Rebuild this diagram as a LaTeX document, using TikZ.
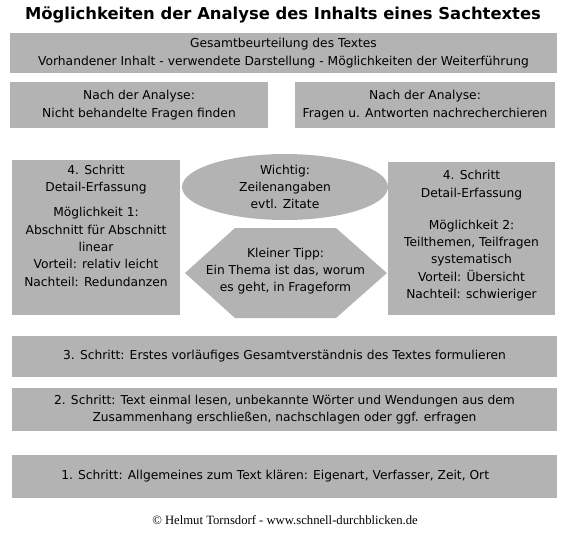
\documentclass[tikz,border=0pt]{standalone}
\usepackage{fontspec}
\setmainfont{DejaVu Sans}
\newfontfamily\footfont{Liberation Serif}
\usetikzlibrary{shapes.geometric,backgrounds}
\definecolor{boxgray}{HTML}{B3B3B3}
\tikzstyle{panel} = [rectangle, fill = boxgray, inner sep = 0pt, align = center, font = \fontsize{9.2}{13}\selectfont]
\tikzstyle{bubble} = [panel, ellipse]
\tikzstyle{tip} = [panel, fill = none]
\begin{document}
\begin{tikzpicture}[x = 0.75pt, y = -0.75pt]
        \useasboundingbox (0,0) rectangle (570,536);
        \node (title) at (283,15) [font = \fontsize{12.3}{15}\selectfont\bfseries] {Möglichkeiten der Analyse des Inhalts eines Sachtextes};
        \node (gesamt) at (283.5,53) [panel, minimum width = 410.25pt, minimum height = 30pt] {Gesamtbeurteilung des Textes\\Vorhandener Inhalt - verwendete Darstellung - Möglichkeiten der Weiterführung};
        \node (nach-l) at (139,105) [panel, minimum width = 193.5pt, minimum height = 34.5pt] {Nach der Analyse:\\Nicht behandelte Fragen finden};
        \node (nach-r) at (425,105) [panel, minimum width = 195pt, minimum height = 34.5pt] {Nach der Analyse:\\Fragen u. Antworten nachrecherchieren};
        \node (detail-l) at (96,237.5) [panel, minimum width = 126pt, minimum height = 116.25pt] {4. Schritt\\Detail-Erfassung\\[6pt]Möglichkeit 1:\\Abschnitt für Abschnitt\\linear\\Vorteil: relativ leicht\\Nachteil: Redundanzen\\[5pt]\mbox{}};
        \node (detail-r) at (471.5,238.5) [panel, minimum width = 125.25pt, minimum height = 114.75pt] {4. Schritt\\Detail-Erfassung\\[11pt]Möglichkeit 2:\\Teilthemen, Teilfragen\\systematisch\\Vorteil: Übersicht\\Nachteil: schwieriger\\[-7pt]\mbox{}};
        \node (wichtig) at (285,187) [bubble, minimum width = 154.5pt, minimum height = 49.5pt] {Wichtig:\\Zeilenangaben\\evtl. Zitate};
        \node (tipp) at (285.5,271) [tip] {Kleiner Tipp:\\Ein Thema ist das, worum\\es geht, in Frageform};
        \begin{scope}[on background layer]
        \fill [boxgray] ([xshift = -75.4pt, yshift = -1.5pt]tipp.center) -- ([xshift = -37.9pt, yshift = 32.25pt]tipp.center) -- ([xshift = 37.9pt, yshift = 32.25pt]tipp.center) -- ([xshift = 76pt, yshift = -1.5pt]tipp.center) -- ([xshift = 37.9pt, yshift = -35.25pt]tipp.center) -- ([xshift = -37.9pt, yshift = -35.25pt]tipp.center) -- cycle;
        \end{scope}
        \node (schritt3) at (284.5,356.5) [panel, minimum width = 408.75pt, minimum height = 30.75pt] {3. Schritt: Erstes vorläufiges Gesamtverständnis des Textes formulieren};
        \node (schritt2) at (284.5,409.5) [panel, minimum width = 408.75pt, minimum height = 32.25pt] {2. Schritt: Text einmal lesen, unbekannte Wörter und Wendungen aus dem\\Zusammenhang erschließen, nachschlagen oder ggf. erfragen};
        \node (schritt1) at (284.5,476.5) [panel, minimum width = 408.75pt, minimum height = 32.25pt] {1. Schritt: Allgemeines zum Text klären: Eigenart, Verfasser, Zeit, Ort\hspace*{14pt}};
        \node (credit) at (285,520) [font = \footfont\fontsize{9.5}{11}\selectfont] {© Helmut Tornsdorf - www.schnell-durchblicken.de};
\end{tikzpicture}
\end{document}
